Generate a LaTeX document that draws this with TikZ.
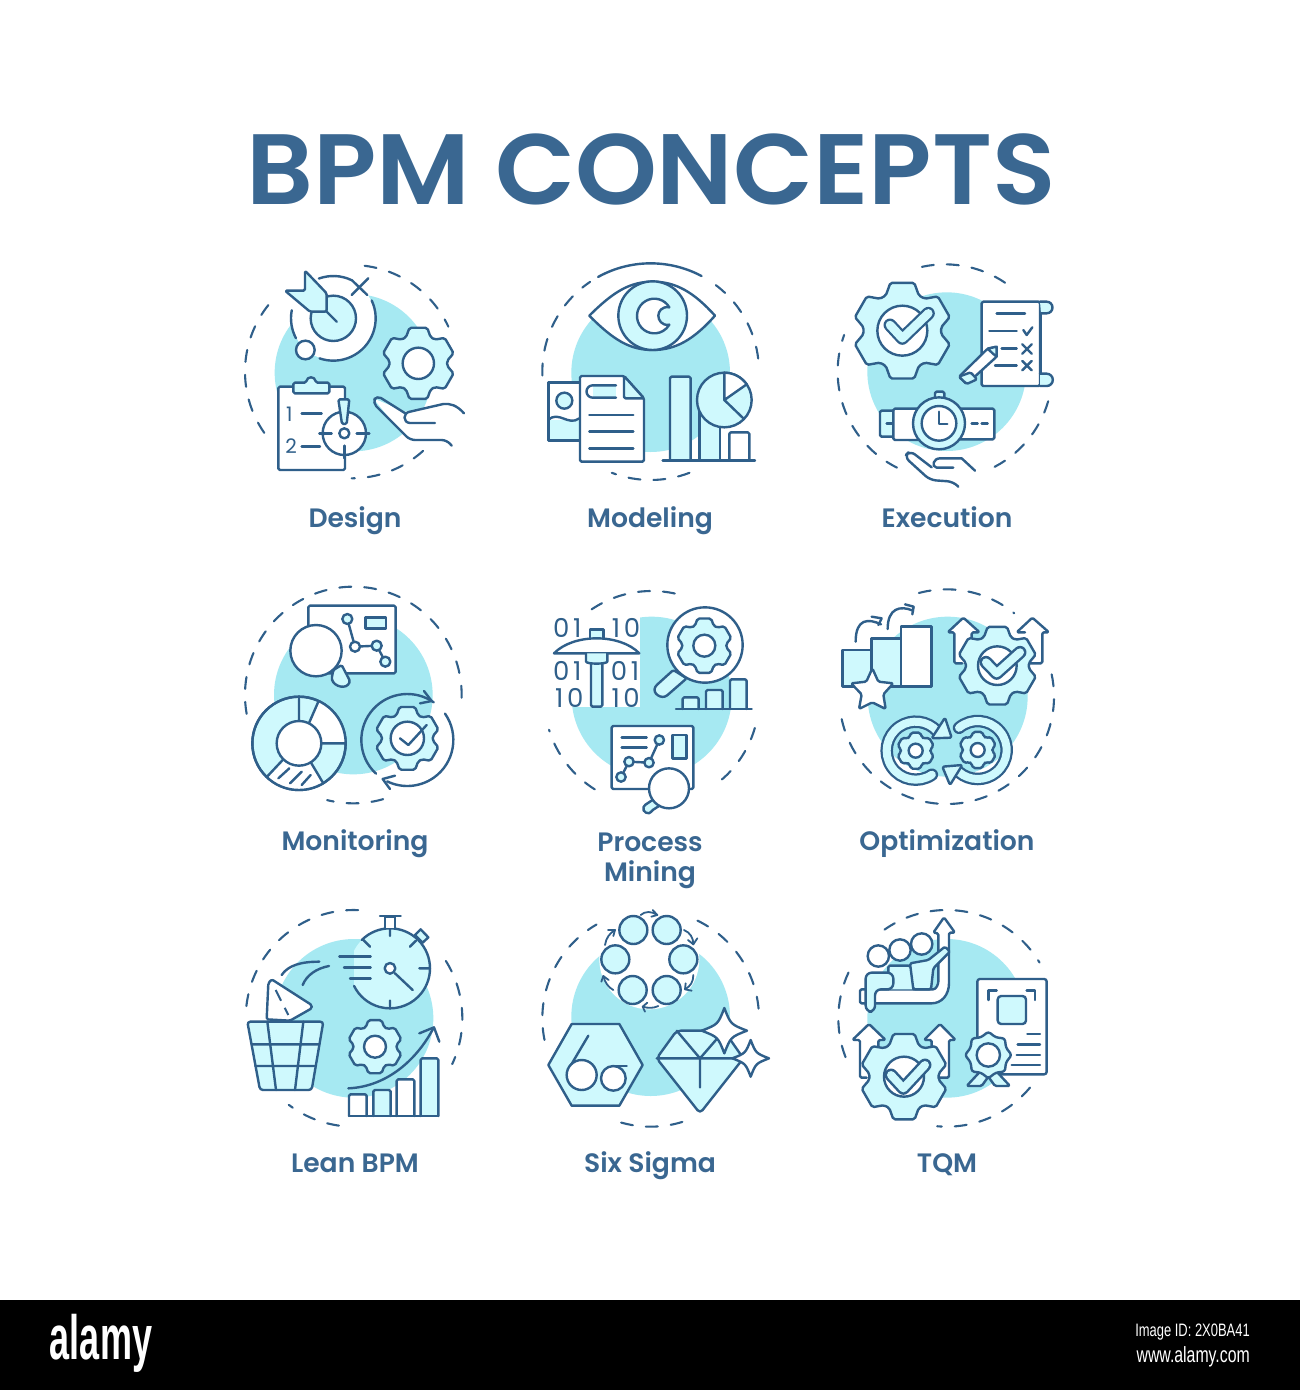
\documentclass[tikz,border=0pt]{standalone}
\usepackage{fontspec}
\setmainfont{Poppins}
\newfontfamily\titlefont{Poppins}[UprightFont=* SemiBold]
\newfontfamily\labelfont{Poppins}[UprightFont=* SemiBold]
\newfontfamily\narrowfont{Liberation Sans}
\definecolor{dk}{HTML}{2F5F8A}
\definecolor{ttl}{HTML}{3A6791}
\definecolor{blob}{HTML}{A6E9F2}
\definecolor{lt}{HTML}{CFF9FD}
\tikzset{
  ln/.style={draw=dk,line width=2.4pt,line join=round,line cap=round},
  ring/.style={draw=dk,line width=2.1pt,line cap=round,dash pattern=on 12pt off 13pt},
  lbl/.style={font=\labelfont\fontsize{26.6}{30}\selectfont,text=ttl,align=center,inner sep=0pt,anchor=base},
  zm/.style={x=.33333pt,y=-.33333pt},
  lf/.style={ln,fill=lt},
  wf/.style={ln,fill=white},
  rc/.style={rounded corners=1.5pt}
}
% gear: cx cy R holeR fill
\newcommand{\gear}[5]{%
  \gdef\gpts{}%
  \foreach \k in {0,...,5}{%
    \pgfmathsetmacro\aA{-90+60*\k-25}%
    \pgfmathsetmacro\aB{-90+60*\k-14}%
    \pgfmathsetmacro\aC{-90+60*\k+14}%
    \pgfmathsetmacro\aD{-90+60*\k+25}%
    \pgfmathsetmacro\rO{#3}%
    \pgfmathsetmacro\rI{#3*.79}%
    \xdef\gpts{\gpts (\aA:\rI) -- (\aB:\rO) -- (\aC:\rO) -- (\aD:\rI) -- }%
  }%
  \begin{scope}[shift={(#1,#2)}]
    \draw[ln,fill=#5,rounded corners=1.8pt] \gpts cycle;
    \draw[wf] (0,0) circle[radius=#4];
  \end{scope}%
}
% scalloped badge: cx cy R
\newcommand{\badge}[3]{%
  \gdef\gpts{}%
  \foreach \k in {0,...,7}{%
    \pgfmathsetmacro\aA{-90+45*\k}%
    \pgfmathsetmacro\aB{-90+45*\k+22.5}%
    \pgfmathsetmacro\rO{#3}%
    \pgfmathsetmacro\rI{#3*.82}%
    \xdef\gpts{\gpts (\aA:\rO) -- (\aB:\rI) -- }%
  }%
  \begin{scope}[shift={(#1,#2)}]
    \draw[lf,rounded corners=2.5pt] \gpts cycle;
  \end{scope}%
}
% arc by centre: [style] cx cy r a1 a2
\newcommand{\carc}[6][ln]{\draw[#1] (#2,#3) ++(#5:#4) arc[start angle=#5,end angle=#6,radius=#4];}
% outlined check mark
\newcommand{\chk}[4]{%
  \draw[dk,line width=#1pt,line cap=round,line join=round] #2;%
  \draw[#4,line width=#3pt,line cap=round,line join=round] #2;%
}
% four pointed sparkle: cx cy r
\newcommand{\spark}[3]{\draw[wf] (#1,#2-#3) .. controls (#1+#3*.28,#2-#3*.28) .. (#1+#3,#2) .. controls (#1+#3*.28,#2+#3*.28) .. (#1,#2+#3) .. controls (#1-#3*.28,#2+#3*.28) .. (#1-#3,#2) .. controls (#1-#3*.28,#2-#3*.28) .. cycle;}
\begin{document}
\begin{tikzpicture}[x=1pt,y=-1pt]
\useasboundingbox (0,0) rectangle (1300,1390);
\fill[white] (0,0) rectangle (1300,1390);
\fill[black] (0,1300) rectangle (1300,1390);
\node[anchor=center,text=ttl,inner sep=0pt] (title) at (651,169) {\scalebox{1.042}[1]{\titlefont\fontsize{100}{110}\selectfont BPM CONCEPTS}};

\node[lbl] (l1) at (355,527) {Design};
\node[lbl] (l2) at (650,527) {Modeling};
\node[lbl] (l3) at (947,527) {Execution};
\node[lbl] (l4) at (355,850) {Monitoring};
\node[lbl] (l5a) at (650,851) {Process};
\node[lbl] (l5b) at (650,881) {Mining};
\node[lbl] (l6) at (947,850) {Optimization};
\node[lbl] (l7) at (355,1172) {Lean BPM};
\node[lbl] (l8) at (650,1172) {Six Sigma};
\node[lbl] (l9) at (947,1172) {TQM};

\node[text=white,inner sep=0pt] (al) at (101,1343) {\scalebox{.72}[1.25]{\narrowfont\bfseries\fontsize{50}{50}\selectfont alamy}};
\node[text=white,anchor=east,inner sep=0pt] (id) at (1250,1332) {\scalebox{.72}[1]{\narrowfont\fontsize{18}{20}\selectfont Image ID: 2X0BA41}};
\node[text=white,anchor=east,inner sep=0pt] (ww) at (1250,1357) {\scalebox{.72}[1]{\narrowfont\fontsize{22}{24}\selectfont www.alamy.com}};

%%% 1 DESIGN
\begin{scope}[shift={(230,250)},zm]
\fill[blob] (370,368) circle[radius=236];
\carc[ring]{365}{365}{320}{145}{219}
\carc[ring]{365}{365}{320}{277}{335}
\carc[ring]{365}{365}{320}{48}{90}
\fill[white] (310,205) circle[radius=125];
\carc{310}{205}{127}{152}{191}
\carc{310}{205}{127}{250}{295}
\carc{310}{205}{127}{-25}{109}
\draw[lf] (310,205) circle[radius=68];
\draw[lf,rc] (165,122) -- (225,122) -- (225,62) -- (290,130) -- (290,185) -- (240,185) -- cycle;
\draw[ln] (290,185) -- (320,215);
\draw[wf] (226,300) circle[radius=28];
\draw[ln] (365,135) -- (415,85) (365,90) -- (412,135);
\gear{565}{340}{110}{47}{lt}
% clipboard
\draw[wf,rc] (145,410) rectangle (345,660);
\draw[lf,rc] (190,430) -- (190,398) -- (228,398) .. controls (232,378) and (254,378) .. (258,398) -- (298,398) -- (298,430) -- cycle;
\node[text=dk,inner sep=0pt] (n1) at (178,493) {\fontsize{20}{20}\selectfont 1};
\node[text=dk,inner sep=0pt] (n2) at (183,589) {\fontsize{20}{20}\selectfont 2};
\draw[ln] (215,490) -- (275,490) (215,590) -- (270,590);
\fill[white] (343,550) circle[radius=64];
\carc{343}{550}{65}{0}{360}
\draw[ln,fill=white] (343,550) circle[radius=15];
\draw[ln] (268,550) -- (305,550) (380,550) -- (418,550) (343,587) -- (343,625);
\draw[lf,rc] (325,448) -- (358,448) -- (350,522) -- (336,522) -- cycle;
% hand
\fill[white] (430,445) -- (530,568) -- (650,568) -- (702,490) -- (640,462) -- (525,485) -- cycle;
\draw[ln,rounded corners=5pt] (665,587) -- (650,570) -- (540,570) -- (428,458) -- (440,436) -- (526,490);
\draw[ln] (702,490) .. controls (680,465) and (660,460) .. (640,462) -- (540,485) .. controls (518,488) and (518,518) .. (540,519) -- (615,519);
\end{scope}

%%% 2 MODELING
\begin{scope}[shift={(530,250)},zm]
\fill[blob] (362,368) circle[radius=238];
\carc[ring]{362}{365}{325}{178}{236}
\carc[ln]{362}{365}{325}{241}{298}
\carc[ring]{362}{365}{325}{307}{357}
\carc[ring]{362}{365}{325}{69}{111}
\draw[wf] (178,197) .. controls (250,125) and (300,95) .. (368,95) .. controls (436,95) and (490,125) .. (555,197) .. controls (490,270) and (436,300) .. (368,300) .. controls (300,300) and (250,270) .. (178,197) -- cycle;
\draw[lf] (368,197) circle[radius=103];
\draw[wf] (418,172) arc[start angle=-30,end angle=-330,radius=52] .. controls (395,228) and (385,210) .. (385,197) .. controls (385,185) and (395,168) .. (418,172) -- cycle;
\draw[lf,rc] (150,398) -- (55,398) -- (55,572) -- (150,572);
\fill[white] (57,400) rectangle (148,510);
\draw[ln] (55,510) .. controls (85,480) and (115,530) .. (148,505);
\draw[ln,fill=lt] (103,452) circle[radius=24];
\draw[ln] (150,398) -- (55,398) -- (55,572) -- (150,572);
\draw[wf,rc] (150,378) -- (282,378) -- (342,445) -- (342,635) -- (150,635) -- cycle;
\draw[lf,rc] (282,378) -- (282,445) -- (342,445) -- cycle;
\fill[lt] (188,406) rectangle (258,443);
\draw[ln] (258,406) -- (188,406) arc[start angle=270,end angle=90,radius=18.5] -- (258,443);
\draw[ln] (178,495) -- (310,495) (178,545) -- (310,545) (178,595) -- (310,595);
\draw[lf,rc] (420,632) -- (420,380) -- (482,380) -- (482,632);
\draw[lf] (508,632) -- (508,460) -- (570,460) -- (570,632);
\draw[wf,rc] (598,632) -- (598,547) -- (658,547) -- (658,632);
\draw[ln] (398,632) -- (675,632);
\draw[lf] (583,450) circle[radius=82];
\draw[wf] (583,450) -- (583,368) arc[start angle=270,end angle=325,radius=82] -- cycle;
\draw[ln] (583,450) -- (640,505);
\end{scope}

%%% 3 EXECUTION
\begin{scope}[shift={(825,250)},zm]
\fill[blob] (365,365) circle[radius=238];
\carc[ring]{360}{365}{322}{257.6}{307.6}
\carc[ring]{360}{365}{322}{16}{65.5}
\carc[ring]{360}{365}{322}{116.6}{200}
\gear{232}{242}{148}{75}{lt}
\chk{13}{(195,225) -- (232,265) -- (310,190)}{8.5}{lt}
\draw[wf,rc] (645,155) -- (470,155) -- (470,408) -- (645,408) -- cycle;
\draw[lf] (645,155) -- (665,155) arc[start angle=-90,end angle=90,radius=17.5] -- (648,190);
\draw[lf] (645,408) -- (665,408) arc[start angle=90,end angle=-90,radius=18.5] -- (645,371);
\draw[ln] (648,190) -- (648,370);
\draw[ln] (515,190) -- (600,190) (493,243) -- (575,243) (530,295) -- (575,295) (510,347) -- (575,347);
\draw[ln] (595,240) -- (605,255) -- (622,232);
\draw[ln] (592,283) -- (620,311) (592,311) -- (620,283) (592,333) -- (620,361) (592,361) -- (620,333);
\draw[wf,rc] (515,290) -- (515,320) -- (425,402) -- (402,380) -- (488,296) -- cycle;
\draw[lf,rc] (437,367) -- (402,380) -- (425,402) -- (456,388) -- cycle;
\draw[lf] (488,296) -- (515,290) -- (515,320) -- (505,312) -- cycle;
\draw[lf,rc] (210,482) -- (165,482) -- (165,560) -- (210,560);
\draw[wf,rc] (205,476) rectangle (290,570);
\draw[wf,rc] (400,476) -- (508,476) -- (508,568) -- (400,568);
\draw[ln] (185,520) -- (200,520) (440,520) -- (458,520) (470,520) -- (488,520);
\draw[lf,rc] (330,442) -- (330,425) -- (358,425) -- (358,442);
\draw[lf] (342,520) circle[radius=78];
\draw[wf] (342,520) circle[radius=52];
\draw[ln] (342,485) -- (342,522) -- (367,522);
\draw[ln,rounded corners=6pt] (400,710) -- (385,695) -- (315,690) -- (238,620) -- (255,602) -- (320,652);
\draw[ln] (385,653) -- (335,653) .. controls (318,650) and (325,625) .. (345,625) -- (410,625) -- (450,662);
\end{scope}

%%% 4 MONITORING
\begin{scope}[shift={(230,575)},zm]
\fill[blob] (370,360) circle[radius=238];
\carc[ring]{370}{360}{325}{170}{367}
\carc[ring]{370}{360}{325}{74}{104}
\draw[wf,rc] (235,92) rectangle (497,295);
\draw[lf,rc] (310,285) -- (305,310) .. controls (312,335) and (350,345) .. (360,318) -- (335,270) -- cycle;
\draw[wf] (258,227) circle[radius=77];
\draw[ln] (352,132) -- (375,215) -- (440,212) -- (466,260);
\draw[lf] (352,132) circle[radius=15];
\draw[wf] (375,215) circle[radius=15];
\draw[lf] (440,212) circle[radius=15];
\draw[lf] (466,260) circle[radius=15];
\draw[lf] (406,128) rectangle (468,160);
\draw[lf] (207,505) circle[radius=140];
\fill[white] (265,378) arc[start angle=-65,end angle=0,radius=140] -- (274,505) arc[start angle=0,end angle=-65,radius=67] -- cycle;
\fill[white] (113,608) arc[start angle=132,end angle=60,radius=140] -- (245,562) arc[start angle=60,end angle=132,radius=67] -- cycle;
\draw[ln] (207,505) circle[radius=140];
\draw[wf] (207,505) circle[radius=67];
\draw[ln] (207,365) -- (207,438) (265,380) -- (238,442) (275,505) -- (347,505) (243,563) -- (280,625) (113,603) -- (158,555);
\draw[ln] (145,610) -- (178,580) (180,625) -- (215,590) (215,630) -- (242,600);
\carc{532}{495}{138}{133}{305}
\carc{532}{495}{138}{-35}{116}
\draw[ln] (582,348) -- (605,378) -- (570,385);
\draw[ln] (480,642) -- (458,612) -- (495,602);
\gear{532}{490}{97}{50}{lt}
\draw[ln] (510,490) -- (535,510) -- (590,450);
\end{scope}

%%% 5 PROCESS MINING
\begin{scope}[shift={(530,575)},zm]
\fill[blob] (365,365) circle[radius=240];
\carc[ring]{365}{370}{322}{236}{288}
\carc[ring]{365}{370}{322}{16}{55}
\carc[ring]{365}{370}{322}{122}{163}
\fill[white] (68,125) rectangle (330,395);
\foreach \nm/\tx/\px/\py in {a/01/112/158,b/10/288/158,c/01/112/288,d/01/285/288,e/10/118/370,f/10/287/370}{
  \node[text=dk,inner sep=0pt] (bin\nm) at (\px,\py) {\fontsize{26}{26}\selectfont\addfontfeature{LetterSpace=14}\tx};
}
\draw[lf] (180,190) -- (180,163) -- (220,163) -- (220,190);
\draw[lf,rc] (183,262) rectangle (217,395);
\draw[wf] (72,235) .. controls (130,175) and (270,175) .. (328,235) -- cycle;
\draw[lf,rc] (168,235) -- (168,255) .. controls (168,268) and (232,268) .. (232,255) -- (232,235);
\draw[lf,rc] (430,285) -- (378,332) .. controls (365,355) and (395,375) .. (415,358) -- (470,310) -- cycle;
\draw[wf] (525,210) circle[radius=113];
\gear{523}{212}{84}{33}{lt}
\draw[lf,rc] (458,402) -- (458,367) -- (506,367) -- (506,402);
\draw[lf,rc] (528,402) -- (528,345) -- (578,345) -- (578,402);
\draw[lf,rc] (600,402) -- (600,313) -- (650,313) -- (650,402);
\draw[ln] (438,402) -- (665,402);
\draw[wf,rc] (245,453) rectangle (490,642);
\draw[ln] (275,487) -- (350,487) (275,517) -- (350,517);
\draw[ln] (388,495) -- (357,563) -- (297,560) -- (273,606);
\draw[lf] (388,495) circle[radius=14];
\draw[lf] (297,560) circle[radius=14];
\draw[lf] (357,563) circle[radius=14];
\draw[lf] (273,606) circle[radius=14];
\draw[lf] (428,480) rectangle (470,550);
\draw[lf,rc] (372,672) -- (342,692) .. controls (335,712) and (358,720) .. (365,707) -- (395,688) -- cycle;
\draw[wf] (417,640) circle[radius=60];
\end{scope}

%%% 6 OPTIMIZATION
\begin{scope}[shift={(825,575)},zm]
\fill[blob] (368,365) circle[radius=240];
\carc[ring]{365}{365}{322}{255}{309}
\carc[ring]{365}{365}{322}{-12}{174}
\draw[lf] (52,225) rectangle (140,335);
\draw[lf] (140,190) rectangle (228,335);
\draw[wf] (228,155) rectangle (320,335);
\draw[wf,rc] (142,280) -- (160,320) -- (205,325) -- (175,358) -- (182,402) -- (142,382) -- (102,402) -- (110,358) -- (78,325) -- (124,320) -- cycle;
\draw[ln] (92,200) .. controls (92,130) and (130,130) .. (168,148);
\draw[ln] (140,125) -- (170,130) -- (160,150);
\draw[ln] (188,162) .. controls (188,100) and (225,90) .. (264,107);
\draw[ln] (240,88) -- (266,95) -- (262,118);
\draw[wf,rc] (412,265) -- (388,265) -- (388,172) -- (368,172) -- (415,128) -- (464,172) -- (440,172) -- (440,265);
\draw[wf,rc] (600,265) -- (652,265) -- (652,172) -- (672,172) -- (622,128) -- (575,172) -- (600,172);
\gear{517}{272}{120}{58}{lt}
\chk{13}{(483,262) -- (515,295) -- (585,232)}{8}{lt}
\carc[dk,line width=12.5pt,line cap=round]{272}{527}{87}{56}{318}
\carc[lt,line width=8pt,line cap=round]{272}{527}{87}{56}{318}
\carc[dk,line width=12.5pt,line cap=round]{458}{525}{87}{230}{490}
\carc[lt,line width=8pt,line cap=round]{458}{525}{87}{230}{490}
\draw[lf,rc] (360,428) -- (380,488) -- (320,490) -- cycle;
\draw[lf,rc] (352,575) -- (412,570) -- (375,630) -- cycle;
\gear{272}{527}{56}{21}{lt}
\gear{458}{525}{56}{21}{lt}
\end{scope}

%%% 7 LEAN BPM
\begin{scope}[shift={(230,900)},zm]
\fill[blob] (372,355) circle[radius=238];
\carc[ring]{372}{355}{325}{186.5}{275}
\carc[ring]{372}{355}{325}{328}{385}
\carc[ring]{372}{355}{325}{98}{127}
\begin{scope}
\clip (372,60) rectangle (620,340);
\fill[lt] (480,205) circle[radius=120];
\end{scope}
\carc{480}{205}{120}{-135}{154}
\draw[ln] (480,85) -- (480,108) (480,302) -- (480,325) (568,205) -- (600,205) (540,140) -- (558,122) (400,120) -- (420,140);
\draw[ln] (495,220) -- (548,270);
\draw[wf] (480,205) circle[radius=16];
\draw[wf] (465,85) -- (465,50) -- (495,50) -- (495,85);
\draw[ln] (450,48) -- (512,48);
\draw[lf] (555,105) -- (572,88) -- (595,112) -- (578,128) -- cycle;
\draw[ln] (328,170) -- (422,170) (342,203) -- (422,203) (360,236) -- (422,236);
\draw[ln] (155,225) .. controls (175,195) and (215,185) .. (268,185);
\draw[ln] (218,255) .. controls (230,225) and (260,205) .. (297,198);
\draw[wf,rc] (110,358) -- (115,250) -- (125,238) -- (245,315) -- (245,325) -- (180,362) -- cycle;
\draw[draw=dk,line width=2pt,dash pattern=on 12pt off 8pt] (137,270) -- (175,345);
\draw[lf,rounded corners=3pt] (52,365) -- (280,365) -- (245,570) -- (90,570) -- cycle;
\draw[ln] (65,433) -- (268,433) (76,498) -- (257,498) (112,365) -- (138,570) (220,365) -- (195,570);
\gear{435}{440}{82}{33}{lt}
\draw[ln] (355,565) .. controls (470,560) and (560,480) .. (610,385);
\draw[ln] (568,400) -- (612,382) -- (628,425);
\draw[wf,rc] (357,648) -- (357,583) -- (410,583) -- (410,648);
\draw[lf,rc] (430,648) -- (430,570) -- (482,570) -- (482,648);
\draw[wf,rc] (500,648) -- (500,538) -- (553,538) -- (553,648);
\draw[lf,rc] (572,648) -- (572,475) -- (625,475) -- (625,648);
\draw[ln] (357,648) -- (625,648);
\end{scope}

%%% 8 SIX SIGMA
\begin{scope}[shift={(530,900)},zm]
\fill[blob] (362,350) circle[radius=238];
\carc[ring]{362}{355}{325}{168.5}{240}
\carc[ring]{362}{355}{325}{295.6}{361}
\carc[ring]{362}{355}{325}{73}{107}
\fill[white] (358,178) circle[radius=150];
\draw[lf] (310,90) circle[radius=42];
\draw[lf] (410,90) circle[radius=42];
\draw[lf] (460,178) circle[radius=42];
\draw[lf] (410,270) circle[radius=42];
\draw[lf] (308,270) circle[radius=42];
\draw[lf] (256,178) circle[radius=42];
\tikzset{sm/.style={draw=dk,line width=1.8pt,line cap=round,line join=round}}
\draw[sm] (332,45) .. controls (345,33) and (365,33) .. (382,45); \draw[sm] (368,30) -- (382,45) -- (364,50);
\draw[sm] (462,90) .. controls (480,98) and (490,112) .. (490,133); \draw[sm] (474,120) -- (490,133) -- (502,115);
\draw[sm] (490,225) .. controls (490,245) and (482,258) .. (465,268); \draw[sm] (467,250) -- (465,268) -- (485,272);
\draw[sm] (385,318) .. controls (370,325) and (355,325) .. (338,320); \draw[sm] (352,308) -- (338,320) -- (345,335);
\draw[sm] (250,270) .. controls (235,262) and (225,248) .. (220,228); \draw[sm] (214,245) -- (220,228) -- (236,240);
\draw[sm] (225,135) .. controls (228,115) and (238,100) .. (255,90); \draw[sm] (234,90) -- (255,90) -- (250,108);
\draw[lf] (125,372) -- (268,372) -- (338,495) -- (268,617) -- (125,617) -- (55,495) -- cycle;
\draw[ln] (175,407) -- (117,505);
\draw[wf] (155,525) circle[radius=45];
\draw[wf] (250,535) circle[radius=37];
\draw[ln] (250,498) -- (290,498);
\draw[lf,rounded corners=4pt] (440,392) -- (582,392) -- (640,475) -- (510,640) -- (380,475) -- cycle;
\draw[ln] (380,475) -- (640,475) (440,392) -- (510,475) -- (582,392) (510,475) -- (510,562);
\spark{583}{392}{68}
\spark{662}{475}{55}
\end{scope}

%%% 9 TQM
\begin{scope}[shift={(825,900)},zm]
\fill[blob] (365,355) circle[radius=238];
\carc[ring]{365}{355}{325}{235}{329}
\carc[ring]{365}{355}{325}{159}{208}
\carc[ring]{365}{355}{325}{39.7}{95}
\draw[wf,rc] (120,268) -- (320,268) .. controls (335,268) and (340,250) .. (340,240) -- (340,100) -- (325,98) -- (357,52) -- (390,98) -- (372,98) -- (372,245) .. controls (372,285) and (350,310) .. (315,310) -- (105,310) -- (105,268) -- cycle;
\draw[wf] (160,168) circle[radius=32];
\draw[wf] (225,150) circle[radius=32];
\draw[wf] (290,132) circle[radius=32];
\draw[lf,rc] (190,268) -- (190,197) -- (255,197) -- (265,210) -- (265,268);
\draw[lf,rc] (265,268) -- (255,190) -- (310,180) -- (360,140) -- (375,155) -- (325,205) -- (318,268) -- cycle;
\draw[lf,rounded corners=6pt] (205,268) -- (205,218) -- (122,218) -- (122,335) -- (150,335) -- (150,268) -- cycle;
\draw[wf,rounded corners=2.5pt] (457,237) rectangle (665,523);
\draw[ln] (490,300) -- (490,272) -- (515,272) (605,272) -- (630,272) -- (630,300);
\draw[lf,rounded corners=3.5pt] (518,288) rectangle (603,372);
\draw[ln] (607,402) -- (645,402) (578,433) -- (645,433) (575,465) -- (645,465) (560,495) -- (645,495);
\draw[lf,rc] (465,515) -- (425,558) -- (470,558) -- (490,530) -- (510,558) -- (555,558) -- (515,515) -- cycle;
\badge{490}{465}{70}
\draw[wf] (490,465) circle[radius=35];
\draw[wf,rc] (125,533) -- (105,533) -- (105,420) -- (82,420) -- (132,372) -- (182,420) -- (160,420) -- (160,480);
\draw[wf,rc] (320,480) -- (320,420) -- (297,420) -- (345,372) -- (392,420) -- (372,420) -- (372,533) -- (345,533);
\gear{237}{530}{132}{60}{lt}
\chk{13}{(198,525) -- (235,565) -- (300,495)}{8}{lt}
\end{scope}
\end{tikzpicture}
\end{document}
